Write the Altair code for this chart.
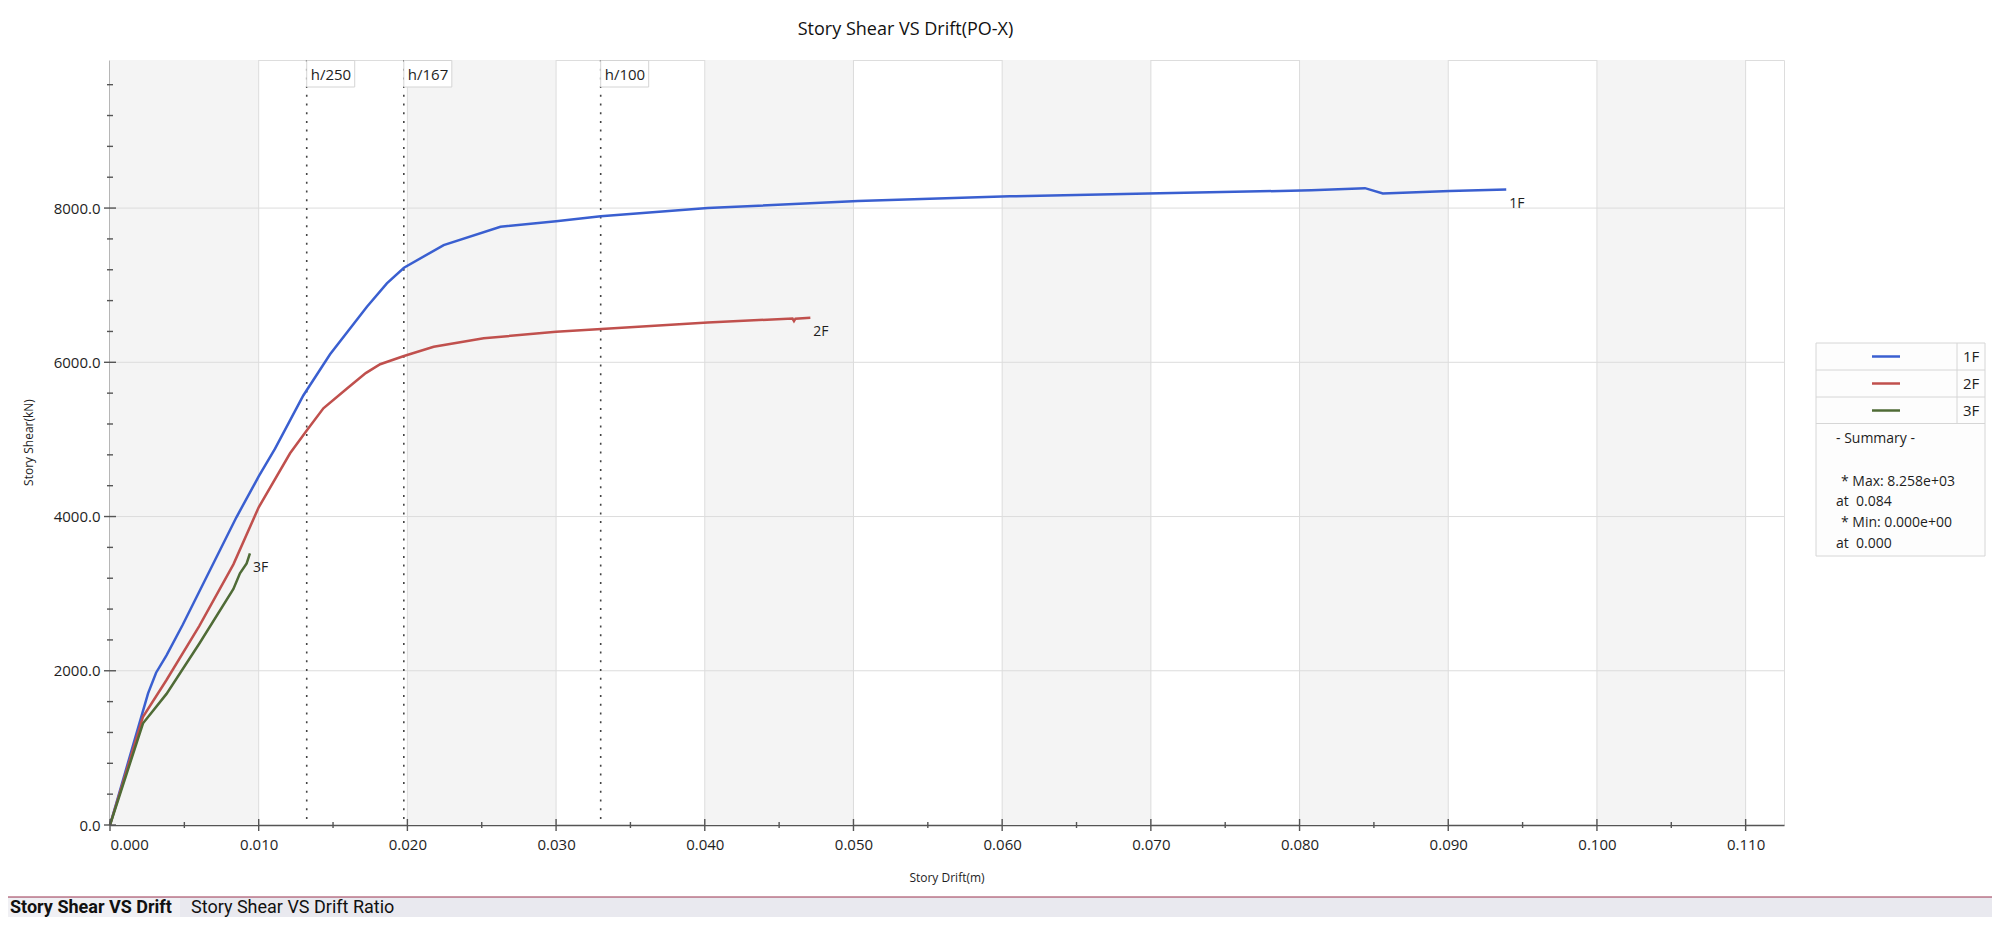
import altair as alt
import pandas as pd

# ---------------- data ----------------
series_names = ["1F", "2F", "3F"]
series_colors = ["#3a5fd0", "#c0504d", "#4f6b36"]

drift_1f = [0.0, 0.00256, 0.0031, 0.0038, 0.0049, 0.0085, 0.0100, 0.0111, 0.0130, 0.0148,
            0.01728, 0.01862, 0.01977, 0.02244, 0.02626, 0.0300, 0.0330, 0.0402, 0.0503, 0.0605,
            0.0706, 0.0808, 0.0844, 0.0856, 0.0901, 0.0939]
shear_1f = [0, 1708, 1975, 2200, 2600, 3990, 4520, 4880, 5570, 6105,
            6720, 7024, 7226, 7520, 7758, 7828, 7893, 8000, 8092, 8152,
            8192, 8230, 8258, 8190, 8222, 8240]

drift_2f = [0.0, 0.00222, 0.0038, 0.0060, 0.0083, 0.0100, 0.01211, 0.01323, 0.01435, 0.0160,
            0.0172, 0.01817, 0.01977, 0.02177, 0.02513, 0.0300, 0.03305, 0.0402, 0.0459, 0.0460,
            0.0461, 0.0471]
shear_2f = [0, 1404, 1880, 2580, 3380, 4120, 4820, 5115, 5403, 5670,
            5860, 5975, 6081, 6202, 6311, 6396, 6431, 6515, 6568, 6535,
            6566, 6578]

drift_3f = [0.0, 0.00222, 0.0038, 0.0060, 0.0083, 0.00874, 0.00919, 0.00941]
shear_3f = [0, 1319, 1700, 2350, 3060, 3264, 3393, 3523]

band_starts = [0.00, 0.02, 0.04, 0.06, 0.08, 0.10]
band_width = 0.01

limit_drifts = [0.01323, 0.01976, 0.0330]
limit_labels = ["h/250", "h/167", "h/100"]

x_major = [0.00, 0.01, 0.02, 0.03, 0.04, 0.05, 0.06, 0.07, 0.08, 0.09, 0.10, 0.11]
x_minor = [0.005, 0.015, 0.025, 0.035, 0.045, 0.055, 0.065, 0.075, 0.085, 0.095, 0.105]
y_major = [0, 2000, 4000, 6000, 8000]
y_minor = [400, 800, 1200, 1600, 2400, 2800, 3200, 3600, 4400, 4800, 5200, 5600,
           6400, 6800, 7200, 7600, 8400, 8800, 9200, 9600]
x_grid = [0.01, 0.02, 0.03, 0.04, 0.05, 0.06, 0.07, 0.08, 0.09, 0.10, 0.11]
y_grid = [2000, 4000, 6000, 8000]

summary_lines = ["- Summary -", "* Max: 8.258e+03", "at\u00a0\u00a00.084",
                 "* Min: 0.000e+00", "at\u00a0\u00a00.000"]

title_text = "Story Shear VS Drift(PO-X)"
x_title = "Story Drift(m)"
y_title = "Story Shear(kN)"
tab_labels = ["Story Shear VS Drift", "Story Shear VS Drift Ratio"]

# ---------------- layout ----------------
W, H = 1674, 765
PAD_L, PAD_T = 102, 52
TOTAL_W, TOTAL_H = 1984, 909
FONT = "Open Sans"
TXT = "#1e1e1e"

xs = alt.Scale(domain=[0, 0.11258], nice=False, zero=False)
ys = alt.Scale(domain=[0, 9920], nice=False, zero=False)
x_axis = alt.Axis(values=x_major, format=".3f", title=None, grid=False, ticks=False,
                  tickSize=0, labelPadding=12, labelFontSize=15, labelFont=FONT,
                  labelColor=TXT, domainColor="#555555", domainWidth=1.5,
                  labelOverlap=False)
y_axis = alt.Axis(values=y_major, format=".1f", title=None, grid=False, ticks=False,
                  tickSize=0, labelPadding=10, labelFontSize=15, labelFont=FONT,
                  labelColor=TXT, domainColor="#6e6e6e", domainWidth=2,
                  labelOverlap=False)


def X(field):
    return alt.X(field, type="quantitative", scale=xs, axis=x_axis)


def Y(field):
    return alt.Y(field, type="quantitative", scale=ys, axis=y_axis)


rows = []
for name, dx, sy in [("1F", drift_1f, shear_1f), ("2F", drift_2f, shear_2f), ("3F", drift_3f, shear_3f)]:
    for i, (a, b) in enumerate(zip(dx, sy)):
        rows.append({"series": name, "drift": a, "shear": b, "idx": i})
curves_df = pd.DataFrame(rows)
ends_df = curves_df.groupby("series").tail(1)

bands_df = pd.DataFrame({"x0": band_starts, "x1": [b + band_width for b in band_starts]})
limits_df = pd.DataFrame({"drift": limit_drifts, "label": limit_labels})

color_scale = alt.Scale(domain=series_names, range=series_colors)

bands = alt.Chart(bands_df).mark_rect(color="#f4f4f4").encode(
    x=X("x0"), x2="x1", y=alt.value(0), y2=alt.value(H))

grid_x = alt.Chart(pd.DataFrame({"v": x_grid})).mark_rule(color="#dcdcdc", strokeWidth=1).encode(
    x=X("v"), y=alt.value(0), y2=alt.value(H))
grid_y = alt.Chart(pd.DataFrame({"v": y_grid})).mark_rule(color="#dcdcdc", strokeWidth=1).encode(
    y=Y("v"), x=alt.value(0), x2=alt.value(W))

limit_lines = alt.Chart(limits_df).mark_rule(color="#444444", strokeWidth=1.6,
                                             strokeDash=[2, 6.7]).encode(
    x=X("drift"), y=alt.value(0), y2=alt.value(H))
limit_boxes = alt.Chart(limits_df).mark_rect(width=48, xOffset=24, fill="white",
                                             stroke="#d4d4d4", strokeWidth=1).encode(
    x=X("drift"), y=alt.value(0.5), y2=alt.value(27))
limit_text = alt.Chart(limits_df).mark_text(align="left", baseline="middle", dx=4,
                                            fontSize=15, font=FONT, color=TXT).encode(
    x=X("drift"), y=alt.value(14.5), text="label:N")

lines = alt.Chart(curves_df).mark_line(strokeWidth=2.5).encode(
    x=X("drift"), y=Y("shear"),
    color=alt.Color("series:N", scale=color_scale, legend=None),
    order="idx:Q", detail="series:N")

end_labels = alt.Chart(ends_df).mark_text(align="left", baseline="middle", dx=3, dy=14.5,
                                          fontSize=14, font=FONT, color=TXT).encode(
    x=X("drift"), y=Y("shear"), text="series:N")

tick_xM = alt.Chart(pd.DataFrame({"v": x_major})).mark_rule(color="#555555", strokeWidth=1.4).encode(
    x=X("v"), y=alt.value(H - 6), y2=alt.value(H + 6))
tick_xm = alt.Chart(pd.DataFrame({"v": x_minor})).mark_rule(color="#555555", strokeWidth=1.4).encode(
    x=X("v"), y=alt.value(H - 3), y2=alt.value(H + 3))
tick_yM = alt.Chart(pd.DataFrame({"v": y_major})).mark_rule(color="#555555", strokeWidth=1.4).encode(
    y=Y("v"), x=alt.value(-6), x2=alt.value(6))
tick_ym = alt.Chart(pd.DataFrame({"v": y_minor})).mark_rule(color="#555555", strokeWidth=1.4).encode(
    y=Y("v"), x=alt.value(-3), x2=alt.value(3))


def text_layer(t, x, y, size, **kw):
    return alt.Chart(pd.DataFrame({"t": [t]})).mark_text(
        fontSize=size, font=kw.pop("font", FONT), color=kw.pop("color", TXT),
        baseline=kw.pop("baseline", "middle"), **kw).encode(
        x=alt.value(x), y=alt.value(y), text="t:N")


def rect_layer(x, x2, y, y2, **kw):
    return alt.Chart(pd.DataFrame({"k": [0]})).mark_rect(**kw).encode(
        x=alt.value(x), x2=alt.value(x2), y=alt.value(y), y2=alt.value(y2))


def rule_layer(x, x2, y, y2, **kw):
    return alt.Chart(pd.DataFrame({"k": [0]})).mark_rule(**kw).encode(
        x=alt.value(x), x2=alt.value(x2), y=alt.value(y), y2=alt.value(y2))


deco = []
# title and axis titles
deco.append(text_layer(title_text, 795.5, -30, 18, align="center", color="#111111"))
deco.append(text_layer(x_title, 837, 818, 12, align="center"))
deco.append(text_layer(y_title, -81, 382.5, 12, align="center", angle=270))

# legend
LX0, LX1, LY0, LY1 = 1706, 1875, 283, 496
deco.append(rect_layer(LX0, LX1, LY0, LY1, fill="#fdfdfd", stroke="#d6d6d6", strokeWidth=1))
row_centers = [296.5, 323.5, 350.5]
for yy in [310, 337, 363.5]:
    deco.append(rule_layer(LX0, LX1, yy, yy, color="#d6d6d6", strokeWidth=1))
deco.append(rule_layer(1847, 1847, LY0, 363.5, color="#d6d6d6", strokeWidth=1))
for name, col, yc in zip(series_names, series_colors, row_centers):
    deco.append(rule_layer(1762, 1790, yc, yc, color=col, strokeWidth=2.5))
    deco.append(text_layer(name, 1853, yc, 15, align="left"))
sum_x = [1726, 1731, 1726, 1731, 1726]
sum_y = [379, 421.7, 442.3, 463.3, 484]
for t, sx, sy in zip(summary_lines, sum_x, sum_y):
    deco.append(text_layer(t, sx, sy, 14, align="left"))

# bottom tab bar
deco.append(rect_layer(-120, 1900, 837, 870, fill="#e9e9ef"))
deco.append(rect_layer(-120, 70, 838, 870, fill="#f0f0f4"))
deco.append(rule_layer(-120, 1900, 837, 837, color="#9b3550", strokeWidth=1.2))
deco.append(text_layer(tab_labels[0], -100, 847.5, 18, align="left", font="Roboto",
                       fontWeight="bold", color="#111111"))
deco.append(text_layer(tab_labels[1], 81, 847.5, 18, align="left", font="Roboto",
                       color="#111111"))

chart = alt.layer(
    bands, grid_x, grid_y, limit_lines, limit_boxes, limit_text,
    lines, end_labels, tick_xM, tick_xm, tick_yM, tick_ym, *deco
).properties(
    width=W, height=H,
    autosize=alt.AutoSizeParams(type="none"),
    padding={"left": PAD_L, "top": PAD_T, "right": TOTAL_W - PAD_L - W,
             "bottom": TOTAL_H - PAD_T - H},
).configure_view(stroke="#d8d8d8", strokeWidth=1).configure(background="white")

chart.save("out.html", embed_options={"renderer": "svg", "actions": False})
